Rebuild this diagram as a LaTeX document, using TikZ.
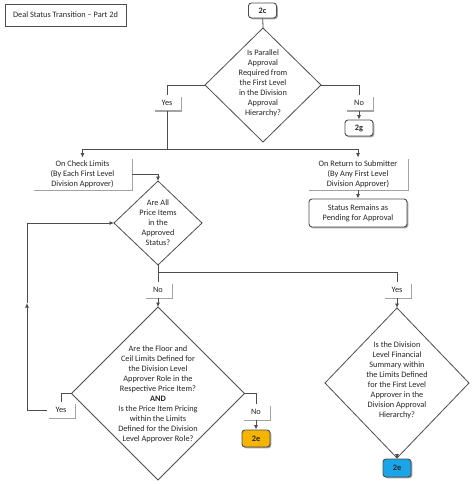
\documentclass[tikz,border=0pt]{standalone}
\usepackage{fontspec}
\setmainfont{Carlito}
\usetikzlibrary{shapes.geometric, shadows, arrows.meta}
\definecolor{ln}{HTML}{4D4D4D}
\definecolor{gold}{HTML}{F5B400}
\definecolor{sky}{HTML}{1AA5E8}

\begin{document}
\begin{tikzpicture}[x=1pt, y=1pt, >={Latex[length=4.5pt,width=4pt]}, line width=0.8pt, color=ln,
    every node/.style={text=black!85, font=\fontsize{8.3}{10}\selectfont},
    shd/.style={drop shadow={shadow xshift=1.3pt, shadow yshift=-1.3pt, fill=black!45, opacity=0.8}},
    lbl/.style={shd, fill=white, minimum width=27pt, minimum height=15pt, inner sep=0pt},
    box/.style={shd, fill=white, align=center, inner sep=0pt},
    rbox/.style={box, draw=ln, line width=0.9pt, rounded corners=3pt},
    dia/.style={diamond, draw=ln, fill=white, inner sep=0pt, outer sep=0pt}]
  \useasboundingbox (0,0) rectangle (474,-484);
  \node[box, draw=ln, minimum width=121pt, minimum height=22pt] (T) at (65.5,-15)
    {Deal Status Transition -- Part 2d};
  \node[rbox, minimum width=28pt, minimum height=15pt] (C) at (262.5,-10.5) {\textbf{2c}};
  \node[dia, minimum width=116pt, minimum height=114pt] (D1) at (263,-85) {};
  \node[align=center] at (263,-83) {Is Parallel\\Approval\\Required from\\the First Level\\in the Division\\Approval\\Hierarchy?};
  \node[lbl] (N1) at (359,-103) {No};
  \node[rbox, minimum width=28pt, minimum height=16pt] (G) at (359,-128) {\textbf{2g}};
  \node[lbl] (Y1) at (167,-103) {Yes};
  \coordinate (B) at (167,-149);
  \node[box, minimum width=99pt, minimum height=32pt] (K) at (82.5,-174)
    {On Check Limits\\(By Each\ First Level\\Division Approver)};
  \node[box, minimum width=100pt, minimum height=32pt] (R) at (358,-174)
    {On Return to Submitter\\(By Any First Level\\Division Approver)};
  \node[rbox, minimum width=98pt, minimum height=28pt] (S) at (358,-213)
    {Status Remains as\\Pending for Approval};
  \node[dia, minimum width=88pt, minimum height=84pt] (D2) at (158,-223) {};
  \node[align=center] at (158,-223) {Are All\\Price Items\\in the\\Approved\\Status?};
  \coordinate (F) at (158,-272);
  \node[lbl] (N2) at (158,-290) {No};
  \node[lbl] (Y2) at (397,-290) {Yes};
  \node[dia, minimum width=173pt, minimum height=173pt] (D3) at (158,-393.5) {};
  \node[align=center] at (158,-394) {Are the Floor and\\Ceil Limits Defined for\\the Division Level\\Approver Role in the\\Respective Price Item?\\\textbf{AND}\\Is the Price Item Pricing\\within the Limits\\Defined for the Division\\Level Approver Role?};
  \node[lbl] (Y3) at (61,-410) {Yes};
  \coordinate (L) at (27,-410);
  \coordinate (U) at (27,-303);
  \node[lbl] (N3) at (256,-412) {No};
  \node[rbox, fill=gold, minimum width=28pt, minimum height=17pt] (E1) at (256,-438.5) {\textbf{2e}};
  \node[dia, minimum width=144pt, minimum height=150pt] (D4) at (397,-383) {};
  \node[align=center] at (397,-380) {Is the Division\\Level Financial\\Summary within\\the Limits Defined\\for the First Level\\Approver in the\\Division Approval\\Hierarchy?};
  \node[rbox, fill=sky, minimum width=28pt, minimum height=18pt] (E2) at (397,-468) {\textbf{2e}};
  \draw (C) -- (D1.north);
  \draw (D1.east) -| (N1); \draw[->] (N1) -- (G);
  \draw (D1.west) -| (Y1); \draw (Y1) -- (B);
  \draw[->] (B) -| (K.north); \draw[->] (B) -| (R.north);
  \draw[->] (R) -- (S);
  \draw[->] (K.east) -| (D2.north);
  \draw (D2.south) -- (F); \draw (F) -- (N2); \draw (F) -| (Y2);
  \draw[->] (N2) -- (D3.north); \draw[->] (Y2) -- (D4.north);
  \draw (D3.west) -| (Y3); \draw (Y3) -- (L); \draw[->] (L) -- (U); \draw (U) -- (27,-223) coordinate (V); \draw[->] (V) -- (D2.west);
  \draw (D3.east) -| (N3); \draw[->] (N3) -- (E1);
  \draw[->] (D4.south) -- (E2);
\end{tikzpicture}
\end{document}
